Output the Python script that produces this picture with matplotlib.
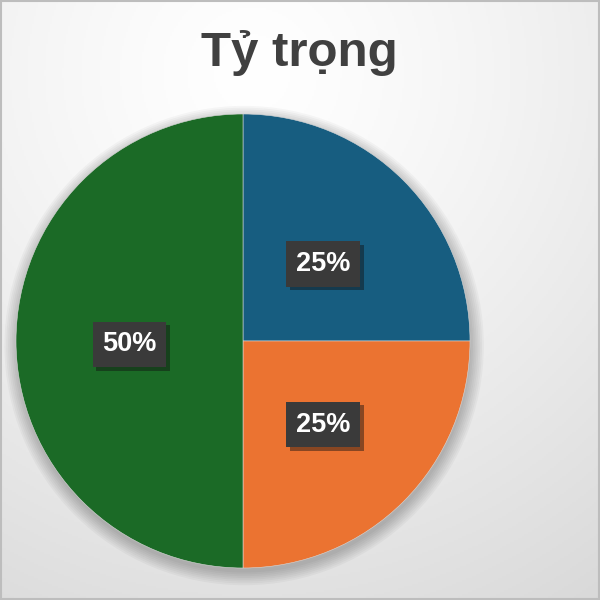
import numpy as np
import matplotlib
matplotlib.use("Agg")
from matplotlib import pyplot as plt
import matplotlib.patheffects as pe

plt.rcParams['font.family'] = ['Liberation Sans', 'DejaVu Sans']

# du lieu
nhan = ["A", "B", "C"]
gia_tri = [25, 25, 50]
mau = ["#175d80", "#eb7331", "#1b6a26"]

fig = plt.figure(figsize=(6, 6), dpi=100)

# nen gradient (trang o tren, xam o goc duoi phai)
bg = fig.add_axes([0, 0, 1, 1], zorder=0)
yy, xx = np.mgrid[0:1:300j, 0:1:300j]
d = np.sqrt((xx - 0.42) ** 2 + (yy - 0.88) ** 2)
g = np.clip(1.0 - 0.14 * d ** 1.3, 0.82, 1.0)
bg.imshow(np.dstack([g, g, g]), extent=[0, 1, 0, 1], origin="lower", aspect="auto")
bg.set_xlim(0, 1)
bg.set_ylim(0, 1)
bg.axis("off")
bg.add_patch(plt.Rectangle((0.001, 0.001), 0.998, 0.997, fill=False, ec="#bdbdbd", lw=1.5))

# pie
cx, cy, r = 243 / 600, 1 - 341 / 600, 227 / 600
ax = fig.add_axes([cx - r * 1.1, cy - r * 1.1, 2.2 * r, 2.2 * r], zorder=1)
# bong mo quanh pie
for k in range(8):
    ax.add_patch(plt.Circle((0.005, -0.02), 1.0 + 0.008 * k, color="black", alpha=0.03, lw=0, zorder=0))
wedges, texts, autotexts = ax.pie(
    gia_tri, colors=mau, startangle=90, counterclock=False,
    autopct="%d%%", pctdistance=0.5, radius=1.0,
    wedgeprops=dict(linewidth=0.4, edgecolor="#d8d8d8"),
)
for t in autotexts:
    x, y = t.get_position()
    t.set_position((x, y - 0.015))
    t.set_color("white")
    t.set_fontsize(19.5)
    t.set_fontweight("bold")
    t.set_bbox(dict(boxstyle="square,pad=0.36", fc="#3a3a3a", ec="none",
                    path_effects=[pe.SimplePatchShadow(offset=(2.5, -2.5), alpha=0.45), pe.Normal()]))
ax.set_xlim(-1.1, 1.1)
ax.set_ylim(-1.1, 1.1)
ax.set_aspect("equal")
ax.axis("off")

fig.text(0.499, 0.912, "Tỷ trọng", ha="center", va="center",
         fontsize=35.5, fontweight="bold", color="#404040")

fig.savefig("out.png", dpi=100)
